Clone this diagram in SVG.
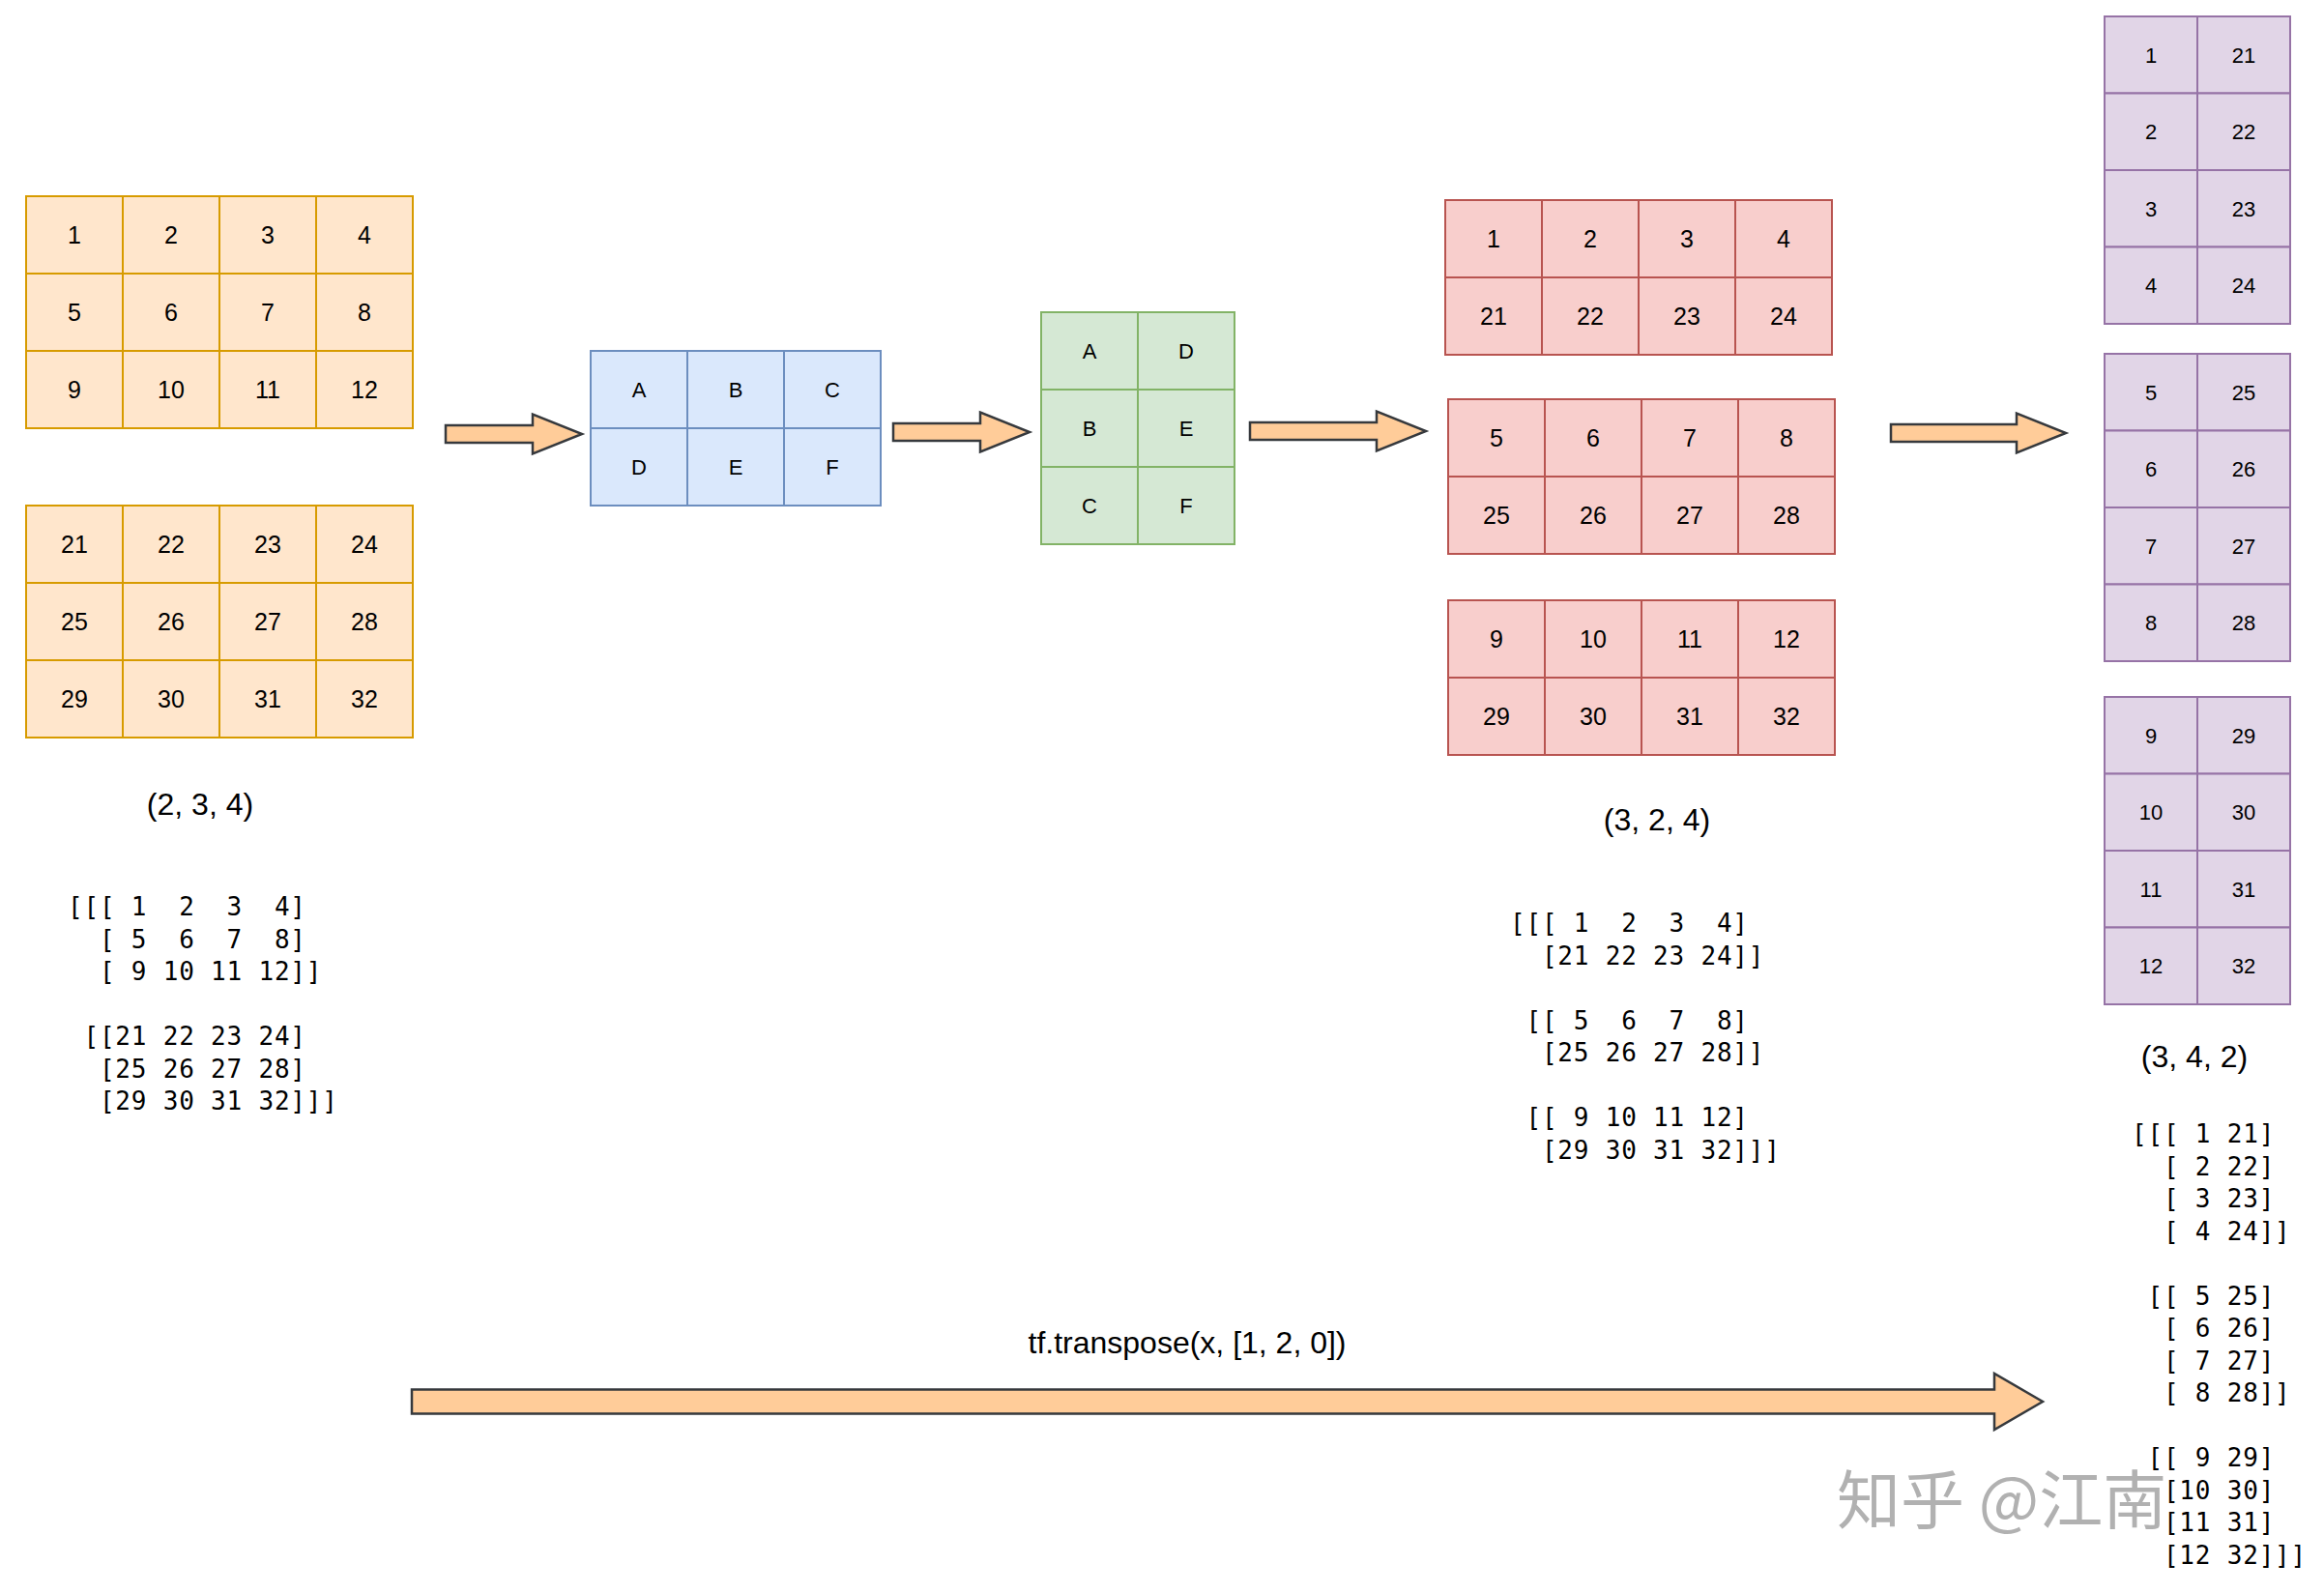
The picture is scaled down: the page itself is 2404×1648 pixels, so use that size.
<svg xmlns="http://www.w3.org/2000/svg" width="2404" height="1648" viewBox="0 0 2404 1648">
<style>
.or{fill:#ffe6cc;stroke:#d79b00;stroke-width:2}
.bl{fill:#dae8fc;stroke:#6c8ebf;stroke-width:2}
.gr{fill:#d5e8d4;stroke:#82b366;stroke-width:2}
.rd{fill:#f8cecc;stroke:#b85450;stroke-width:2}
.pu{fill:#e1d5e7;stroke:#9673a6;stroke-width:2}
.ar{fill:#ffcc99;stroke:#36393d;stroke-width:2.5;stroke-linejoin:miter}
.t{font-family:"Liberation Sans",Arial,sans-serif;font-size:25px;fill:#000;text-anchor:middle}
.ts{font-family:"Liberation Sans",Arial,sans-serif;font-size:22px;fill:#000;text-anchor:middle}
.lb{font-family:"Liberation Sans",Arial,sans-serif;font-size:32px;fill:#000;text-anchor:middle}
.code{font-family:"DejaVu Sans Mono",monospace;font-size:26px;letter-spacing:0.8px;fill:#000;white-space:pre}
.wm{font-family:"Noto Sans CJK SC","Liberation Sans",sans-serif;font-size:66px;fill:#a9a9a9;opacity:0.9}
</style>

<g id="connectors">
  <path class="ar" d="M461,440 H551 V428.5 L602,449 L551,469.5 V458 H461 Z"/>
  <path class="ar" d="M924,438 H1014 V426.5 L1065,447 L1014,467.5 V456 H924 Z"/>
  <path class="ar" d="M1293,437 H1424 V425.5 L1475,446 L1424,466.5 V455 H1293 Z"/>
  <path class="ar" d="M1956,439 H2086 V427.5 L2137,448 L2086,468.5 V457 H1956 Z"/>
  <path class="ar" d="M426,1437.5 H2063 V1421 L2113,1450 L2063,1479 V1462.5 H426 Z"/>
</g>

<g id="tensor-a-0">
  <rect class="or" x="27" y="203" width="100" height="80"/><rect class="or" x="127" y="203" width="100" height="80"/><rect class="or" x="227" y="203" width="100" height="80"/><rect class="or" x="327" y="203" width="100" height="80"/>
  <rect class="or" x="27" y="283" width="100" height="80"/><rect class="or" x="127" y="283" width="100" height="80"/><rect class="or" x="227" y="283" width="100" height="80"/><rect class="or" x="327" y="283" width="100" height="80"/>
  <rect class="or" x="27" y="363" width="100" height="80"/><rect class="or" x="127" y="363" width="100" height="80"/><rect class="or" x="227" y="363" width="100" height="80"/><rect class="or" x="327" y="363" width="100" height="80"/>
  <text class="t" x="77" y="252">1</text><text class="t" x="177" y="252">2</text><text class="t" x="277" y="252">3</text><text class="t" x="377" y="252">4</text>
  <text class="t" x="77" y="332">5</text><text class="t" x="177" y="332">6</text><text class="t" x="277" y="332">7</text><text class="t" x="377" y="332">8</text>
  <text class="t" x="77" y="412">9</text><text class="t" x="177" y="412">10</text><text class="t" x="277" y="412">11</text><text class="t" x="377" y="412">12</text>
</g>
<g id="tensor-a-1">
  <rect class="or" x="27" y="523" width="100" height="80"/><rect class="or" x="127" y="523" width="100" height="80"/><rect class="or" x="227" y="523" width="100" height="80"/><rect class="or" x="327" y="523" width="100" height="80"/>
  <rect class="or" x="27" y="603" width="100" height="80"/><rect class="or" x="127" y="603" width="100" height="80"/><rect class="or" x="227" y="603" width="100" height="80"/><rect class="or" x="327" y="603" width="100" height="80"/>
  <rect class="or" x="27" y="683" width="100" height="80"/><rect class="or" x="127" y="683" width="100" height="80"/><rect class="or" x="227" y="683" width="100" height="80"/><rect class="or" x="327" y="683" width="100" height="80"/>
  <text class="t" x="77" y="572">21</text><text class="t" x="177" y="572">22</text><text class="t" x="277" y="572">23</text><text class="t" x="377" y="572">24</text>
  <text class="t" x="77" y="652">25</text><text class="t" x="177" y="652">26</text><text class="t" x="277" y="652">27</text><text class="t" x="377" y="652">28</text>
  <text class="t" x="77" y="732">29</text><text class="t" x="177" y="732">30</text><text class="t" x="277" y="732">31</text><text class="t" x="377" y="732">32</text>
</g>
<g id="label-a">
  <text class="lb" x="207" y="843">(2, 3, 4)</text>
  <text class="code" xml:space="preserve"><tspan x="70" y="947">[[[ 1  2  3  4]</tspan><tspan x="70" y="980.5">  [ 5  6  7  8]</tspan><tspan x="70" y="1014">  [ 9 10 11 12]]</tspan><tspan x="70" y="1081"> [[21 22 23 24]</tspan><tspan x="70" y="1114.5">  [25 26 27 28]</tspan><tspan x="70" y="1148">  [29 30 31 32]]]</tspan></text>
</g>

<g id="matrix-blue">
  <rect class="bl" x="611" y="363" width="100" height="80"/><rect class="bl" x="711" y="363" width="100" height="80"/><rect class="bl" x="811" y="363" width="100" height="80"/>
  <rect class="bl" x="611" y="443" width="100" height="80"/><rect class="bl" x="711" y="443" width="100" height="80"/><rect class="bl" x="811" y="443" width="100" height="80"/>
  <text class="ts" x="661" y="411">A</text><text class="ts" x="761" y="411">B</text><text class="ts" x="861" y="411">C</text>
  <text class="ts" x="661" y="491">D</text><text class="ts" x="761" y="491">E</text><text class="ts" x="861" y="491">F</text>
</g>

<g id="matrix-green">
  <rect class="gr" x="1077" y="323" width="100" height="80"/><rect class="gr" x="1177" y="323" width="100" height="80"/>
  <rect class="gr" x="1077" y="403" width="100" height="80"/><rect class="gr" x="1177" y="403" width="100" height="80"/>
  <rect class="gr" x="1077" y="483" width="100" height="80"/><rect class="gr" x="1177" y="483" width="100" height="80"/>
  <text class="ts" x="1127" y="371">A</text><text class="ts" x="1227" y="371">D</text>
  <text class="ts" x="1127" y="451">B</text><text class="ts" x="1227" y="451">E</text>
  <text class="ts" x="1127" y="531">C</text><text class="ts" x="1227" y="531">F</text>
</g>

<g id="tensor-b-0">
  <rect class="rd" x="1495" y="207" width="100" height="80"/><rect class="rd" x="1595" y="207" width="100" height="80"/><rect class="rd" x="1695" y="207" width="100" height="80"/><rect class="rd" x="1795" y="207" width="100" height="80"/>
  <rect class="rd" x="1495" y="287" width="100" height="80"/><rect class="rd" x="1595" y="287" width="100" height="80"/><rect class="rd" x="1695" y="287" width="100" height="80"/><rect class="rd" x="1795" y="287" width="100" height="80"/>
  <text class="t" x="1545" y="256">1</text><text class="t" x="1645" y="256">2</text><text class="t" x="1745" y="256">3</text><text class="t" x="1845" y="256">4</text>
  <text class="t" x="1545" y="336">21</text><text class="t" x="1645" y="336">22</text><text class="t" x="1745" y="336">23</text><text class="t" x="1845" y="336">24</text>
</g>
<g id="tensor-b-1">
  <rect class="rd" x="1498" y="413" width="100" height="80"/><rect class="rd" x="1598" y="413" width="100" height="80"/><rect class="rd" x="1698" y="413" width="100" height="80"/><rect class="rd" x="1798" y="413" width="100" height="80"/>
  <rect class="rd" x="1498" y="493" width="100" height="80"/><rect class="rd" x="1598" y="493" width="100" height="80"/><rect class="rd" x="1698" y="493" width="100" height="80"/><rect class="rd" x="1798" y="493" width="100" height="80"/>
  <text class="t" x="1548" y="462">5</text><text class="t" x="1648" y="462">6</text><text class="t" x="1748" y="462">7</text><text class="t" x="1848" y="462">8</text>
  <text class="t" x="1548" y="542">25</text><text class="t" x="1648" y="542">26</text><text class="t" x="1748" y="542">27</text><text class="t" x="1848" y="542">28</text>
</g>
<g id="tensor-b-2">
  <rect class="rd" x="1498" y="621" width="100" height="80"/><rect class="rd" x="1598" y="621" width="100" height="80"/><rect class="rd" x="1698" y="621" width="100" height="80"/><rect class="rd" x="1798" y="621" width="100" height="80"/>
  <rect class="rd" x="1498" y="701" width="100" height="80"/><rect class="rd" x="1598" y="701" width="100" height="80"/><rect class="rd" x="1698" y="701" width="100" height="80"/><rect class="rd" x="1798" y="701" width="100" height="80"/>
  <text class="t" x="1548" y="670">9</text><text class="t" x="1648" y="670">10</text><text class="t" x="1748" y="670">11</text><text class="t" x="1848" y="670">12</text>
  <text class="t" x="1548" y="750">29</text><text class="t" x="1648" y="750">30</text><text class="t" x="1748" y="750">31</text><text class="t" x="1848" y="750">32</text>
</g>
<g id="label-b">
  <text class="lb" x="1714" y="859">(3, 2, 4)</text>
  <text class="code" xml:space="preserve"><tspan x="1562" y="964">[[[ 1  2  3  4]</tspan><tspan x="1562" y="997.5">  [21 22 23 24]]</tspan><tspan x="1562" y="1064.5"> [[ 5  6  7  8]</tspan><tspan x="1562" y="1098">  [25 26 27 28]]</tspan><tspan x="1562" y="1165"> [[ 9 10 11 12]</tspan><tspan x="1562" y="1198.5">  [29 30 31 32]]]</tspan></text>
</g>

<g id="tensor-c-0">
  <rect class="pu" x="2177" y="17" width="96" height="79.5"/><rect class="pu" x="2273" y="17" width="96" height="79.5"/>
  <rect class="pu" x="2177" y="96.5" width="96" height="79.5"/><rect class="pu" x="2273" y="96.5" width="96" height="79.5"/>
  <rect class="pu" x="2177" y="176" width="96" height="79.5"/><rect class="pu" x="2273" y="176" width="96" height="79.5"/>
  <rect class="pu" x="2177" y="255.5" width="96" height="79.5"/><rect class="pu" x="2273" y="255.5" width="96" height="79.5"/>
  <text class="ts" x="2225" y="64.5">1</text><text class="ts" x="2321" y="64.5">21</text>
  <text class="ts" x="2225" y="144">2</text><text class="ts" x="2321" y="144">22</text>
  <text class="ts" x="2225" y="223.5">3</text><text class="ts" x="2321" y="223.5">23</text>
  <text class="ts" x="2225" y="303">4</text><text class="ts" x="2321" y="303">24</text>
</g>
<g id="tensor-c-1">
  <rect class="pu" x="2177" y="366" width="96" height="79.5"/><rect class="pu" x="2273" y="366" width="96" height="79.5"/>
  <rect class="pu" x="2177" y="445.5" width="96" height="79.5"/><rect class="pu" x="2273" y="445.5" width="96" height="79.5"/>
  <rect class="pu" x="2177" y="525" width="96" height="79.5"/><rect class="pu" x="2273" y="525" width="96" height="79.5"/>
  <rect class="pu" x="2177" y="604.5" width="96" height="79.5"/><rect class="pu" x="2273" y="604.5" width="96" height="79.5"/>
  <text class="ts" x="2225" y="413.5">5</text><text class="ts" x="2321" y="413.5">25</text>
  <text class="ts" x="2225" y="493">6</text><text class="ts" x="2321" y="493">26</text>
  <text class="ts" x="2225" y="572.5">7</text><text class="ts" x="2321" y="572.5">27</text>
  <text class="ts" x="2225" y="652">8</text><text class="ts" x="2321" y="652">28</text>
</g>
<g id="tensor-c-2">
  <rect class="pu" x="2177" y="721" width="96" height="79.5"/><rect class="pu" x="2273" y="721" width="96" height="79.5"/>
  <rect class="pu" x="2177" y="800.5" width="96" height="79.5"/><rect class="pu" x="2273" y="800.5" width="96" height="79.5"/>
  <rect class="pu" x="2177" y="880" width="96" height="79.5"/><rect class="pu" x="2273" y="880" width="96" height="79.5"/>
  <rect class="pu" x="2177" y="959.5" width="96" height="79.5"/><rect class="pu" x="2273" y="959.5" width="96" height="79.5"/>
  <text class="ts" x="2225" y="768.5">9</text><text class="ts" x="2321" y="768.5">29</text>
  <text class="ts" x="2225" y="848">10</text><text class="ts" x="2321" y="848">30</text>
  <text class="ts" x="2225" y="927.5">11</text><text class="ts" x="2321" y="927.5">31</text>
  <text class="ts" x="2225" y="1007">12</text><text class="ts" x="2321" y="1007">32</text>
</g>
<g id="label-c">
  <text class="lb" x="2270" y="1104">(3, 4, 2)</text>
  <text class="code" xml:space="preserve"><tspan x="2205" y="1182">[[[ 1 21]</tspan><tspan x="2205" y="1215.5">  [ 2 22]</tspan><tspan x="2205" y="1249">  [ 3 23]</tspan><tspan x="2205" y="1282.5">  [ 4 24]]</tspan><tspan x="2205" y="1349.5"> [[ 5 25]</tspan><tspan x="2205" y="1383">  [ 6 26]</tspan><tspan x="2205" y="1416.5">  [ 7 27]</tspan><tspan x="2205" y="1450">  [ 8 28]]</tspan><tspan x="2205" y="1517"> [[ 9 29]</tspan><tspan x="2205" y="1550.5">  [10 30]</tspan><tspan x="2205" y="1584">  [11 31]</tspan><tspan x="2205" y="1617.5">  [12 32]]]</tspan></text>
</g>

<g id="label-op">
  <text class="lb" x="1228" y="1400">tf.transpose(x, [1, 2, 0])</text>
</g>

<g id="watermark">
  <text class="wm" x="1900" y="1576">知乎 @江南</text>
</g>
</svg>
